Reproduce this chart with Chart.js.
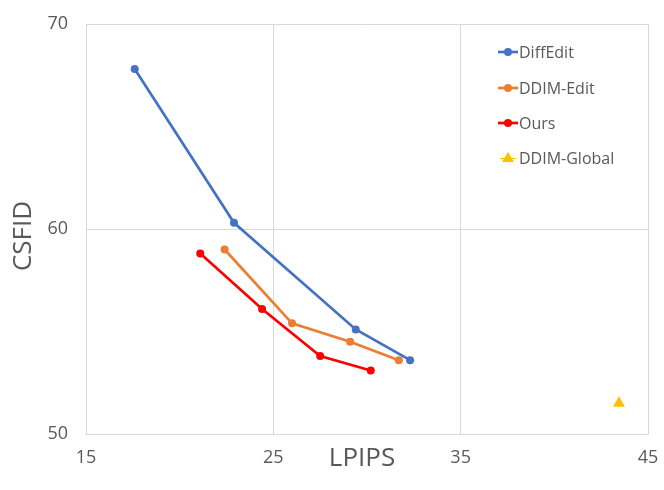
<!DOCTYPE html>
<html>
<head>
<meta charset="utf-8">
<script src="https://cdn.jsdelivr.net/npm/chart.js@4"></script>
<style>
html,body{margin:0;padding:0;background:#fff;}
#wrap{width:664px;height:490px;position:relative;}
</style>
</head>
<body>
<div id="wrap"><canvas id="c" width="664" height="490"></canvas></div>
<script>
const xTitle = "LPIPS";
const yTitle = "CSFID";
const xTicks = [15, 25, 35, 45];
const yTicks = [50, 60, 70];
const seriesNames = ["DiffEdit", "DDIM-Edit", "Ours", "DDIM-Global"];
const seriesColors = ["#4472C4", "#ED7D31", "#FF0000", "#FFC000"];
const diffEditX = [17.6, 22.9, 29.4, 32.3];
const diffEditY = [67.8, 60.3, 55.1, 53.6];
const ddimEditX = [22.4, 26.0, 29.1, 31.7];
const ddimEditY = [59.0, 55.4, 54.5, 53.6];
const oursX = [21.1, 24.4, 27.5, 30.2];
const oursY = [58.8, 56.1, 53.8, 53.1];
const ddimGlobalX = [43.45];
const ddimGlobalY = [51.5];

const pts = (xs, ys) => xs.map((x, i) => ({x: x, y: ys[i]}));
const textColor = "#595959";
const gridColor = "#d9d9d9";
const fontFamily = "'Open Sans', 'Noto Sans', sans-serif";

function lineSet(i, xs, ys) {
  return {
    label: seriesNames[i],
    data: pts(xs, ys),
    showLine: true,
    borderColor: seriesColors[i],
    backgroundColor: seriesColors[i],
    borderWidth: 2.7,
    pointRadius: 4,
    pointHoverRadius: 4,
    pointBorderWidth: 0,
    pointStyle: 'circle'
  };
}

const datasets = [
  lineSet(0, diffEditX, diffEditY),
  lineSet(1, ddimEditX, ddimEditY),
  lineSet(2, oursX, oursY),
  {
    label: seriesNames[3],
    data: pts(ddimGlobalX, ddimGlobalY),
    showLine: false,
    borderColor: seriesColors[3],
    backgroundColor: seriesColors[3],
    pointStyle: 'triangle',
    pointRadius: 7,
    pointBorderWidth: 0
  }
];

const extras = {
  id: 'extras',
  afterDraw(chart) {
    const ctx = chart.ctx;
    ctx.save();
    ctx.fillStyle = textColor;
    ctx.textAlign = 'center';
    ctx.textBaseline = 'middle';
    ctx.font = "26px " + fontFamily;
    ctx.fillText(xTitle, 362, 459);
    ctx.save();
    ctx.translate(24, 236);
    ctx.rotate(-Math.PI / 2);
    ctx.fillText(yTitle, 0, 0);
    ctx.restore();
    // legend
    const lx = 498, rowY = [52, 88, 123, 158];
    ctx.font = "16px " + fontFamily;
    ctx.textAlign = 'left';
    chart.data.datasets.forEach((ds, i) => {
      const y = rowY[i];
      ctx.fillStyle = ds.backgroundColor;
      ctx.strokeStyle = ds.borderColor;
      if (ds.showLine) {
        ctx.lineWidth = 2.7;
        ctx.beginPath();
        ctx.moveTo(lx, y);
        ctx.lineTo(lx + 20, y);
        ctx.stroke();
        ctx.beginPath();
        ctx.arc(lx + 10, y, 4, 0, Math.PI * 2);
        ctx.fill();
      } else {
        ctx.lineWidth = 1.2;
        ctx.beginPath();
        ctx.moveTo(lx + 2, y + 0.5);
        ctx.lineTo(lx + 18, y + 0.5);
        ctx.stroke();
        ctx.beginPath();
        ctx.moveTo(lx + 10, y - 6);
        ctx.lineTo(lx + 16, y + 4);
        ctx.lineTo(lx + 4, y + 4);
        ctx.closePath();
        ctx.fill();
      }
      ctx.fillStyle = textColor;
      ctx.fillText(ds.label, lx + 21, y + 1);
    });
    ctx.restore();
  }
};

new Chart(document.getElementById('c'), {
  type: 'scatter',
  data: { datasets: datasets },
  options: {
    responsive: false,
    animation: false,
    devicePixelRatio: 1,
    layout: { padding: { top: 24, right: 16, left: 0, bottom: 0 } },
    plugins: { legend: { display: false }, tooltip: { enabled: false } },
    scales: {
      x: {
        type: 'linear',
        min: xTicks[0], max: xTicks[xTicks.length - 1],
        afterBuildTicks: s => { s.ticks = xTicks.map(v => ({value: v})); },
        afterFit: s => { s.height = 56; s.paddingLeft = 0; s.paddingRight = 0; },
        ticks: { color: textColor, font: { size: 18, family: fontFamily }, padding: 13, maxRotation: 0 },
        grid: { color: gridColor, drawTicks: false, lineWidth: 1 },
        border: { color: gridColor }
      },
      y: {
        type: 'linear',
        min: yTicks[0], max: yTicks[yTicks.length - 1],
        afterBuildTicks: s => { s.ticks = yTicks.map(v => ({value: v})); },
        afterFit: s => { s.width = 86; s.paddingTop = 0; s.paddingBottom = 0; },
        ticks: { color: textColor, font: { size: 18, family: fontFamily }, padding: 18 },
        grid: { color: gridColor, drawTicks: false, lineWidth: 1 },
        border: { color: gridColor }
      }
    }
  },
  plugins: [extras]
});
</script>
</body>
</html>
